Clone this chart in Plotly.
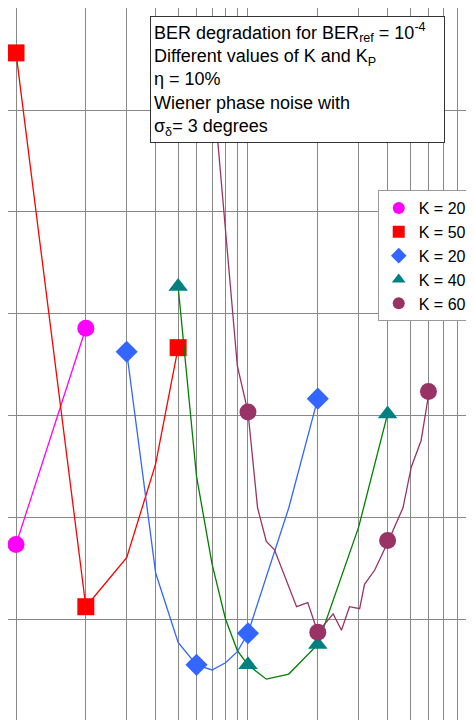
import plotly.graph_objects as go

k20_x = [1, 2]
k20_y = [1.74, 3.86]
k50_x = [1, 2, 3, 4, 5]
k50_y = [6.56, 1.13, 1.61, 2.53, 3.67]
k50_mx = [1, 2, 5]
k50_my = [6.56, 1.13, 3.67]
k200_x = [3, 4, 5, 6, 7, 8, 9, 10, 15, 20]
k200_y = [3.63, 1.46, 0.78, 0.56, 0.51, 0.58, 0.69, 0.87, 2.10, 3.17]
k200_mx = [3, 6, 10, 20]
k200_my = [3.63, 0.56, 0.87, 3.17]
k400_x = [5, 6, 7, 8, 9, 10, 12, 15, 20, 30, 40]
k400_y = [4.27, 2.41, 1.55, 1.01, 0.70, 0.56, 0.42, 0.47, 0.76, 1.91, 3.02]
k400_mx = [5, 10, 20, 40]
k400_my = [4.27, 0.56, 0.76, 3.02]
k600_x = [7.2, 9, 10, 11, 12, 13, 16.2, 18.1, 20, 23.3, 25.3, 27.4, 30.3, 31.8, 35.2, 40.4, 46.6, 50.6, 55.8, 60.4]
k600_y = [6.02, 3.49, 3.04, 2.10, 1.77, 1.69, 1.13, 1.17, 0.88, 1.06, 0.90, 1.13, 1.11, 1.35, 1.49, 1.78, 2.10, 2.50, 2.76, 3.24]
k600_mx = [10, 20, 40, 60]
k600_my = [3.04, 0.88, 1.78, 3.24]
x_grid = [1, 2, 3, 4, 5, 6, 7, 8, 9, 10, 20, 30, 40, 50, 60, 70, 80, 90, 100]

fig = go.Figure()
def series(x, y, mx, my, name, lc, mc, sym):
    fig.add_trace(go.Scatter(x=x, y=y, mode="lines", line=dict(color=lc, width=1.3),
                             showlegend=False, hoverinfo="skip"))
    fig.add_trace(go.Scatter(x=mx, y=my, mode="markers", name=name,
                             marker=dict(color=mc, symbol=sym, size=17)))

series(k20_x, k20_y, k20_x, k20_y, "K = 20", "#FF00FF", "#FF00FF", "circle")
series(k50_x, k50_y, k50_mx, k50_my, "K = 50", "#FF0000", "#FF0000", "square")
series(k200_x, k200_y, k200_mx, k200_my, "K = 200", "#3366FF", "#3366FF", "diamond")
series(k400_x, k400_y, k400_mx, k400_my, "K = 400", "#008000", "#008080", "triangle-up")
series(k600_x, k600_y, k600_mx, k600_my, "K = 600", "#993366", "#993366", "circle")

fig.add_annotation(
    xref="paper", yref="paper", x=0.30, y=0.989, xanchor="left", yanchor="top",
    align="left", showarrow=False, bgcolor="white", bordercolor="#333", borderwidth=1,
    borderpad=3,
    text="BER degradation for BER<sub>ref</sub> = 10<sup>-4</sup>   <br>"
         "Different values of K and K<sub>P</sub><br>"
         "η = 10%<br>Wiener phase noise with<br>σ<sub>δ</sub>= 3 degrees",
    font=dict(size=18, color="black", family="Liberation Sans, Arial"))

fig.update_layout(
    width=474, height=720, margin=dict(l=0, r=0, t=0, b=0, autoexpand=False),
    paper_bgcolor="white", plot_bgcolor="white",
    font=dict(family="Liberation Sans, Arial", size=16, color="black"),
    legend=dict(x=0.780, y=0.747, xanchor="left", yanchor="top", bgcolor="white",
                bordercolor="#999", borderwidth=1, tracegroupgap=2,
                font=dict(size=16), itemwidth=30, itemsizing="constant"),
)
fig.update_xaxes(type="log", range=[-0.0345, 2.009], showticklabels=False,
                 tickmode="array", tickvals=x_grid,
                 gridcolor="#888", gridwidth=1, showline=False, zeroline=False)
fig.update_yaxes(range=[-0.059, 7.0], dtick=1, showticklabels=False,
                 gridcolor="#888", gridwidth=1, zeroline=False, showline=False)
fig.write_html("out.html")
